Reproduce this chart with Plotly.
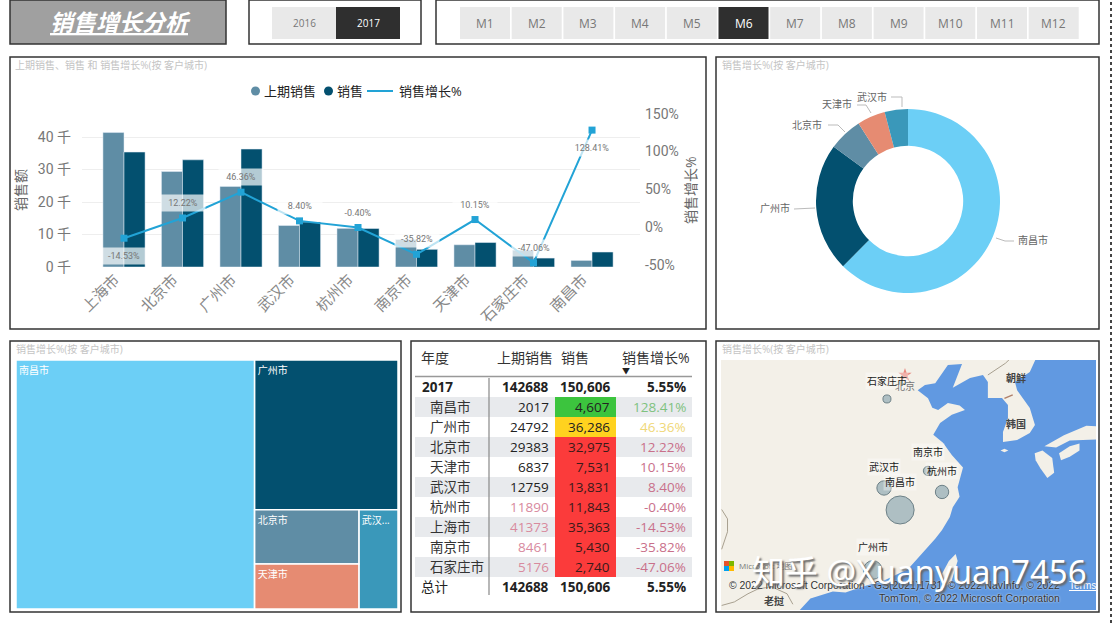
import plotly.graph_objects as go

W, H = 1113, 623
FONT = "Open Sans, Noto Sans CJK SC"
FONT_DIN = "Roboto, Noto Sans CJK SC"

# datos
cities = ["上海市", "北京市", "广州市", "武汉市", "杭州市", "南京市", "天津市", "石家庄市", "南昌市"]
prev_sales = [41373, 29383, 24792, 12759, 11890, 8461, 6837, 5176, 2017]
sales = [35363, 32975, 36286, 13831, 11843, 5430, 7531, 2740, 4607]
growth = [-14.53, 12.22, 46.36, 8.40, -0.40, -35.82, 10.15, -47.06, 128.41]
labels_below = ["上海市", "南昌市"]

left_ticks = [0, 10000, 20000, 30000, 40000]
left_ticktext = ["0 千", "10 千", "20 千", "30 千", "40 千"]
right_ticks = [-50, 0, 50, 100, 150]
right_ticktext = ["-50%", "0%", "50%", "100%", "150%"]

years = ["2016", "2017"]
months = ["M1", "M2", "M3", "M4", "M5", "M6", "M7", "M8", "M9", "M10", "M11", "M12"]

share_cities = ["南昌市", "广州市", "北京市", "天津市", "武汉市"]
share_values = [128.41, 46.36, 12.22, 10.15, 8.40]
share_colors = ["#6CCFF6", "#03506F", "#5F8DA5", "#E68B72", "#3A98BA"]
treemap_text = ["南昌市", "广州市", "北京市", "天津市", "武汉..."]

table_header = ["年度", "上期销售", "销售", "销售增长%"]
table_rows = ["南昌市", "广州市", "北京市", "天津市", "武汉市", "杭州市", "上海市", "南京市", "石家庄市"]
table_prev = ["2017", "24792", "29383", "6837", "12759", "11890", "41373", "8461", "5176"]
table_sales = ["4,607", "36,286", "32,975", "7,531", "13,831", "11,843", "35,363", "5,430", "2,740"]
table_growth = ["128.41%", "46.36%", "12.22%", "10.15%", "8.40%", "-0.40%", "-14.53%", "-35.82%", "-47.06%"]
table_total = ["142688", "150,606", "5.55%"]

map_cities = ["石家庄市", "南京市", "武汉市", "杭州市", "南昌市", "广州市"]
map_lon = [114.55, 118.76, 114.25, 120.2, 115.9, 113.1]
map_lat = [37.85, 31.7, 30.24, 29.9, 28.36, 23.23]
map_growth = [-47.06, -35.82, 8.40, -0.40, 128.41, 46.36]

coast_lon = [105.6, 106.7, 109.0, 110.3, 112.0, 114.2, 116.7, 118.0, 119.5, 120.2, 121.0, 121.3, 122.0,
             121.8, 122.0, 122.35, 121.2, 120.3, 119.3, 120.0, 121.2, 122.55, 122.0, 120.8, 119.8, 119.2,
             118.76, 117.7, 118.45, 119.5, 120.3, 120.8, 122.25, 121.84, 121.3, 123.07, 124.4, 124.9,
             124.9, 126.35, 126.96, 126.96, 126.45, 126.45, 127.9, 129.2, 129.73, 129.2, 127.9, 127.68,
             129.2, 129.94, 137.0, 137.0, 105.4]
coast_lat = [19.8, 20.8, 21.4, 21.3, 21.8, 22.3, 23.3, 24.5, 25.9, 26.65, 27.76, 28.6, 29.5,
             30.3, 30.9, 32.0, 33.06, 34.1, 34.8, 35.8, 36.5, 36.9, 37.3, 37.5, 36.9, 37.1,
             37.9, 38.6, 39.05, 39.2, 40.16, 40.75, 40.84, 39.9, 38.8, 39.64, 39.9, 39.3,
             37.93, 37.93, 37.34, 36.2, 35.03, 34.17, 34.34, 34.94, 35.63, 37.08, 38.6, 39.3,
             40.16, 41.5, 41.5, 19.0, 19.0]
islands = {
    "honshu": ([130.7, 132.7, 135.0, 136.5, 136.5, 133.3, 131.9], [33.8, 34.75, 35.55, 35.5, 34.4, 34.3, 33.7]),
    "shikoku": ([132.2, 133.3, 134.3, 134.3, 133.3, 132.4], [33.2, 33.8, 34.05, 33.45, 32.9, 32.6]),
    "kyushu": ([129.7, 130.5, 131.5, 131.7, 131.0, 130.3, 129.8], [33.2, 33.45, 32.8, 31.55, 31.1, 31.9, 32.6]),
    "taiwan": ([121.6, 121.8, 121.1, 120.5, 120.2, 120.9], [24.6, 24.0, 22.1, 21.85, 22.9, 24.0]),
    "jeju": ([126.2, 126.6, 127.0, 126.6], [33.45, 33.6, 33.45, 33.3]),
}
borders = {
    "cn_kp": ([124.9, 126.7, 127.2], [39.9, 40.9, 41.3]),
    "west": ([97.6, 98.2, 98.2, 97.6], [28.4, 27.6, 26.5, 25.0]),
    "laos": ([97.6, 98.9, 100.3, 101.3, 102.7, 104.3, 104.9], [20.2, 20.5, 21.2, 21.6, 21.8, 21.2, 20.3]),
}


def fx(px):
    return px / W


def fy(py):
    return 1 - py / H


shapes = []
annotations = []


def box(x0, y0, x1, y1, fill="rgba(0,0,0,0)", line="#333333", width=1.5, layer="below"):
    shapes.append(dict(type="rect", xref="paper", yref="paper", x0=fx(x0), x1=fx(x1), y0=fy(y0), y1=fy(y1),
                       fillcolor=fill, line=dict(color=line, width=width), layer=layer))


def seg(x0, y0, x1, y1, color="#BBBBBB", width=1, dash="solid"):
    shapes.append(dict(type="line", xref="paper", yref="paper", x0=fx(x0), x1=fx(x1), y0=fy(y0), y1=fy(y1),
                       line=dict(color=color, width=width, dash=dash)))


def label(x, y, text, size=12, color="#666666", anchor="center", angle=0, family=FONT, **kw):
    annotations.append(dict(x=fx(x), y=fy(y), xref="paper", yref="paper", text=text, showarrow=False,
                            xanchor=anchor, yanchor="middle", textangle=angle,
                            font=dict(size=size, color=color, family=family, **kw.pop("font", {})), **kw))


# cabecera y botones
box(10, 0, 226, 44, fill="#A0A0A0")
label(120, 22, "<b><i><u>销售增长分析</u></i></b>", size=23, color="#FFFFFF")
box(249, 0, 421, 44, fill="#FFFFFF")
box(436, 0, 1099, 44, fill="#FFFFFF")
for i, year in enumerate(years):
    on = year == "2017"
    box(272 + 64 * i, 7, 336 + 64 * i, 39, fill="#2F2F2F" if on else "#E9E9E9", line="rgba(0,0,0,0)", width=0)
    label(304 + 64 * i, 23, year, size=10, color="#FFFFFF" if on else "#777777")
for i, month in enumerate(months):
    on = month == "M6"
    x0 = 460 + 51.7 * i
    box(x0, 7, x0 + 50, 39, fill="#2F2F2F" if on else "#E9E9E9", line="rgba(0,0,0,0)", width=0)
    label(x0 + 25, 23, month, size=12, color="#FFFFFF" if on else "#777777")

# paneles
box(10, 57, 706, 329)
box(716, 57, 1099, 329)
box(10, 341, 401, 612)
box(411, 341, 706, 612)
box(716, 341, 1099, 612)
label(13, 65, "上期销售、销售 和 销售增长%(按 客户城市)", size=10, color="#C4C4C4", anchor="left")
label(720, 65, "销售增长%(按 客户城市)", size=10, color="#C4C4C4", anchor="left")
label(14, 349, "销售增长%(按 客户城市)", size=10, color="#C4C4C4", anchor="left")
label(720, 349, "销售增长%(按 客户城市)", size=10, color="#C4C4C4", anchor="left")
shapes.append(dict(type="line", xref="paper", yref="paper", x0=fx(1111), x1=fx(1111), y0=0, y1=1,
                   line=dict(color="#444444", width=2, dash="dot")))

fig = go.Figure()

# combinado barras + linea
fig.add_trace(go.Bar(x=cities, y=prev_sales, marker_color="#5F8DA5", xaxis="x", yaxis="y", showlegend=False))
fig.add_trace(go.Bar(x=cities, y=sales, marker_color="#03506F", xaxis="x", yaxis="y", showlegend=False))
fig.add_trace(go.Scatter(x=cities, y=growth, mode="lines+markers", xaxis="x", yaxis="y2", showlegend=False,
                         line=dict(color="#22A3D6", width=2), marker=dict(symbol="square", size=7, color="#22A3D6")))
for city, g in zip(cities, growth):
    annotations.append(dict(x=city, y=g, xref="x", yref="y2", text="%.2f%%" % g, showarrow=False,
                            yshift=-18 if city in labels_below else 15, width=42, height=14,
                            bgcolor="rgba(255,255,255,0.7)", font=dict(size=9, color="#777777", family=FONT_DIN)))

# leyenda
shapes.append(dict(type="circle", xref="paper", yref="paper", x0=fx(251), x1=fx(260), y0=fy(95.5), y1=fy(86.5),
                   fillcolor="#5F8DA5", line_width=0))
shapes.append(dict(type="circle", xref="paper", yref="paper", x0=fx(324), x1=fx(333), y0=fy(95.5), y1=fy(86.5),
                   fillcolor="#03506F", line_width=0))
seg(367, 91, 393, 91, color="#22A3D6", width=2)
label(262, 91, "上期销售", size=13, color="#222222", anchor="left")
label(335, 91, "销售", size=13, color="#222222", anchor="left")
label(397, 91, "销售增长%", size=13, color="#222222", anchor="left")
label(21, 190, "销售额", size=14, color="#666666", angle=-90)
label(691, 190, "销售增长%", size=14, color="#666666", angle=-90)

# anillo
fig.add_trace(go.Pie(labels=share_cities, values=share_values, hole=0.6, sort=False, direction="clockwise",
                     rotation=0, textinfo="none", marker=dict(colors=share_colors, line=dict(width=0)),
                     domain=dict(x=[fx(816), fx(1000)], y=[fy(293), fy(109)]), showlegend=False))
label(1033, 240, "南昌市", size=10)
label(775, 208, "广州市", size=10)
label(807, 125, "北京市", size=10)
label(837, 104, "天津市", size=10)
label(872, 97, "武汉市", size=10)
leaders = [[(996, 238), (1005, 241), (1014, 241)], [(794, 209), (815, 208)],
           [(828, 125), (838, 125), (845, 132)], [(857, 105), (866, 105), (871, 113)],
           [(891, 97), (902, 97), (902, 107)]]
for pts in leaders:
    for a, b in zip(pts[:-1], pts[1:]):
        seg(a[0], a[1], b[0], b[1])

# mapa de rectangulos: grupos vacios para repartir igual que el original
group_north = sum(share_values[2:4])
group_small = group_north + share_values[4]
group_right = group_small + share_values[1]
tm_labels = ["南昌市", "右", "广州市", "小", "北津", "武汉市", "北京市", "天津市"]
tm_parents = ["", "", "右", "右", "小", "小", "北津", "北津"]
tm_values = [share_values[0], group_right, share_values[1], group_small, group_north, share_values[4],
             share_values[2], share_values[3]]
tm_text = [treemap_text[0], "", treemap_text[1], "", "", treemap_text[4], treemap_text[2], treemap_text[3]]
tm_colors = [share_colors[0], "#FFFFFF", share_colors[1], "#FFFFFF", "#FFFFFF", share_colors[4],
             share_colors[2], share_colors[3]]
fig.add_trace(go.Treemap(labels=tm_labels, parents=tm_parents, values=tm_values, text=tm_text,
                         branchvalues="total", textinfo="text", textposition="top left", sort=False,
                         textfont=dict(size=10, color="#FFFFFF", family=FONT),
                         marker=dict(colors=tm_colors, line=dict(color="#FFFFFF", width=1.5), pad=dict(t=0, l=0, r=0, b=0)),
                         tiling=dict(pad=0, packing="slice-dice"), pathbar=dict(visible=False),
                         root=dict(color="rgba(0,0,0,0)"),
                         domain=dict(x=[fx(16), fx(398)], y=[fy(609), fy(360)])))

# tabla
grey = "#E8EAED"
pink = "#D88A9E"
col_right = [551, 612, 688]
prev_color = ["#222222"] * 5 + [pink] * 4
growth_color = ["#7FC27F", "#F0D878"] + ["#C9708A"] * 7
sales_fill = ["#3CC43E", "#FFD21F"] + ["#FB3B3B"] * 7
label(419, 357, table_header[0], size=14, color="#333333", anchor="left")
label(495, 357, table_header[1], size=14, color="#333333", anchor="left")
label(559, 357, table_header[2], size=14, color="#333333", anchor="left")
label(620, 357, table_header[3], size=14, color="#333333", anchor="left")
label(420, 387, "<b>2017</b>", size=13.5, color="#222222", anchor="left")
label(419, 587, "总计", size=13.5, color="#222222", anchor="left")
for i in range(3):
    label(col_right[i], 387, "<b>%s</b>" % table_total[i], size=13.5, color="#222222", anchor="right")
    label(col_right[i], 587, "<b>%s</b>" % table_total[i], size=13.5, color="#222222", anchor="right")
for i, city in enumerate(table_rows):
    y = 407 + 20 * i
    if i % 2 == 0:
        box(415, y - 10, 692, y + 10, fill=grey, line="rgba(0,0,0,0)", width=0)
    box(555, y - 10, 616, y + 10, fill=sales_fill[i], line="rgba(0,0,0,0)", width=0)
    label(428, y, city, size=13.5, color="#333333", anchor="left")
    label(col_right[0], y, table_prev[i], size=13.5, color=prev_color[i], anchor="right")
    label(col_right[1], y, table_sales[i], size=13.5, color="#3A1A1A" if i > 1 else "#222222", anchor="right")
    label(col_right[2], y, table_growth[i], size=13.5, color=growth_color[i], anchor="right")
seg(415, 376.5, 692, 376.5, color="#999999", width=1.5)
seg(489, 378, 489, 595, color="#888888", width=1.2)
label(626, 370, "▼", size=8, color="#222222")

# mapa: tierra como fondo, agua encima
box(721, 360, 1096, 610, fill="#F3F0E8", line="rgba(0,0,0,0)", width=0)
fig.add_trace(go.Scatter(x=coast_lon, y=coast_lat, mode="lines", fill="toself", fillcolor="#6199E1",
                         line=dict(width=0), xaxis="x2", yaxis="y3", showlegend=False))
for name, (lon, lat) in islands.items():
    fig.add_trace(go.Scatter(x=lon, y=lat, mode="lines", fill="toself", fillcolor="#F3F0E8",
                             line=dict(width=0), xaxis="x2", yaxis="y3", showlegend=False))
for name, (lon, lat) in borders.items():
    fig.add_trace(go.Scatter(x=lon, y=lat, mode="lines", line=dict(color="#A8A090", width=1),
                             xaxis="x2", yaxis="y3", showlegend=False))
fig.add_trace(go.Scatter(x=[126.6, 128.3], y=[37.9, 38.5], mode="lines", line=dict(color="#B0806A", width=1.5, dash="dash"),
                         xaxis="x2", yaxis="y3", showlegend=False))
bubble_size = [13.4 + 0.114 * g for g in map_growth]
fig.add_trace(go.Scatter(x=map_lon, y=map_lat, mode="markers", xaxis="x2", yaxis="y3", showlegend=False,
                         marker=dict(size=bubble_size, color="rgba(80,125,145,0.6)", line=dict(color="#35525E", width=1))))
fig.add_trace(go.Scatter(x=[116.4], y=[39.9], mode="markers", xaxis="x2", yaxis="y3", showlegend=False,
                         marker=dict(symbol="star", size=10, color="#E8897F")))
for city, lon, lat, size in zip(map_cities, map_lon, map_lat, bubble_size):
    annotations.append(dict(x=lon, y=lat, xref="x2", yref="y3", text=city, showarrow=False, yshift=size / 2 + 14,
                            bgcolor="rgba(255,255,255,0.35)", font=dict(size=10, color="#222222", family=FONT)))
annotations.append(dict(x=116.4, y=39.9, xref="x2", yref="y3", text="北京", showarrow=False, yshift=-11,
                        font=dict(size=10, color="#777777", family=FONT)))
annotations.append(dict(x=127.8, y=39.6, xref="x2", yref="y3", text="<b>朝鲜</b>", showarrow=False,
                        font=dict(size=10, color="#444444", family=FONT)))
annotations.append(dict(x=127.8, y=35.7, xref="x2", yref="y3", text="<b>韩国</b>", showarrow=False,
                        font=dict(size=10, color="#444444", family=FONT)))
annotations.append(dict(x=103.0, y=20.6, xref="x2", yref="y3", text="<b>老挝</b>", showarrow=False,
                        font=dict(size=10, color="#444444", family=FONT)))
for x0, y0, color in [(724, 561, "#E8532B"), (729, 561, "#7DB700"), (724, 566, "#00A1F1"), (729, 566, "#FFB900")]:
    box(x0, y0, x0 + 5, y0 + 5, fill=color, line="rgba(0,0,0,0)", width=0, layer="above")
label(737, 565, "Microsoft 地图", size=8, color="#777777", anchor="left")
label(1062, 585, "© 2022 Microsoft Corporation - GS(2021)1731, © 2022 NavInfo, © 2022", size=10.4, color="#333333", anchor="right",
      family="Liberation Sans", font=dict(shadow="0px 0px 2px #FFFFFF"))
label(1062, 598, "TomTom, © 2022 Microsoft Corporation", size=10.4, color="#333333", anchor="right",
      family="Liberation Sans", font=dict(shadow="0px 0px 2px #FFFFFF"))
label(1082, 585, "<u>Terms</u>", size=10, color="#FFFFFF", family="Liberation Sans")

# marca de agua
label(750, 571, "知乎 @Xuanyuan7456", size=33, color="#FFFFFF", anchor="left",
      family="Noto Sans, Noto Sans CJK SC", font=dict(shadow="2px 2px 2px #666666"))

fig.update_layout(
    width=W, height=H, autosize=False, margin=dict(l=0, r=0, t=0, b=0),
    paper_bgcolor="#FFFFFF", plot_bgcolor="rgba(0,0,0,0)",
    font=dict(family=FONT), barmode="group", bargap=0.28, bargroupgap=0,
    shapes=shapes, annotations=annotations,
    xaxis=dict(domain=[fx(82), fx(640)], range=[-0.718, 8.82], anchor="y", type="category", automargin=False,
               tickangle=-45, tickfont=dict(size=15, color="#888888", family=FONT), showgrid=False, ticks="",
               ticklabelshift=-9),
    yaxis=dict(domain=[fy(267), fy(105)], range=[0, 49846], anchor="x", tickvals=left_ticks, ticktext=left_ticktext,
               automargin=False, ticklabelstandoff=10,
               tickfont=dict(size=14, color="#777777", family=FONT_DIN), gridcolor="#EEEEEE", zeroline=False, ticks=""),
    yaxis2=dict(domain=[fy(267), fy(105)], range=[-52.6, 161.6], anchor="x", overlaying="y", side="right",
                tickvals=right_ticks, ticktext=right_ticktext, showgrid=False, zeroline=False,
                automargin=False, ticklabelstandoff=4,
                tickfont=dict(size=14, color="#777777", family=FONT_DIN), ticks=""),
    xaxis2=dict(domain=[fx(721), fx(1096)], range=[97.53, 135.99], anchor="y3", visible=False, automargin=False),
    yaxis3=dict(domain=[fy(610), fy(360)], range=[19.81, 41.18], anchor="x2", visible=False, automargin=False),
)

fig.write_html("out.html", config=dict(displayModeBar=False),
               post_script="document.body.style.margin='0';document.body.style.overflow='hidden';")
